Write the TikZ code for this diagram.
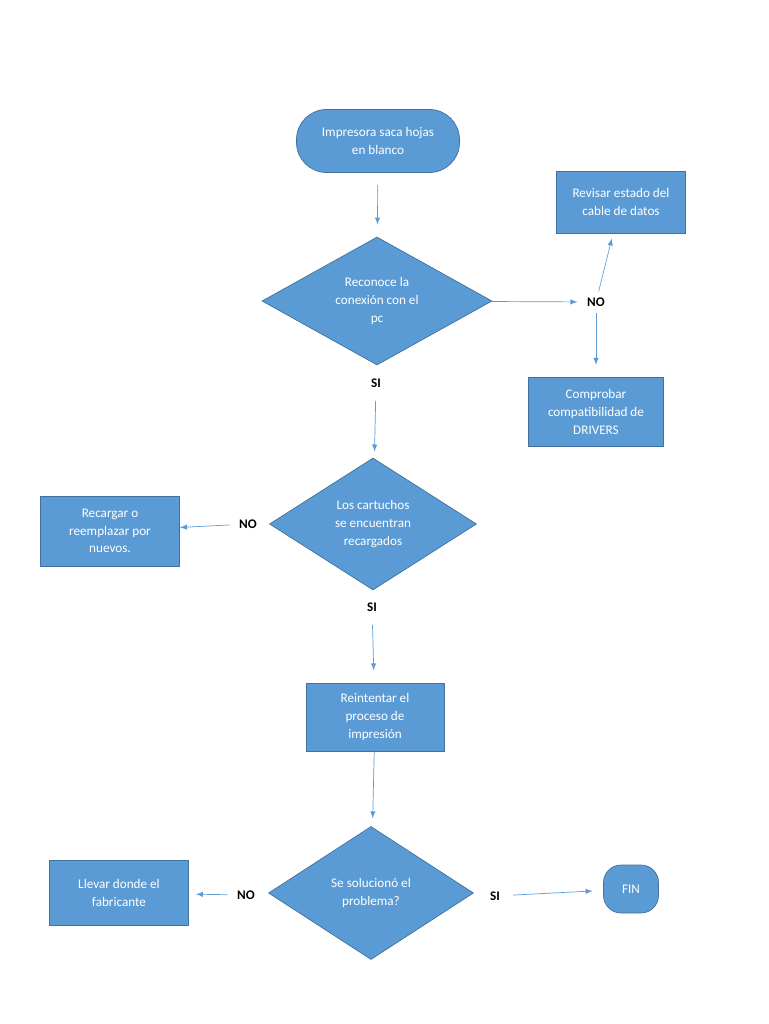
\documentclass[tikz,border=0pt]{standalone}
\usepackage{fontspec}
\setmainfont{Carlito}
\usetikzlibrary{shapes.geometric,positioning}
\definecolor{boxblue}{HTML}{5B9BD5}
\definecolor{edgeblue}{HTML}{41719C}
\begin{document}
\begin{tikzpicture}[x=0.02cm, y=-0.02cm,
        box/.style = {draw=edgeblue, fill=boxblue, text=white,
            align=center, font=\fontsize{7.5}{10}\selectfont,
            inner sep=0pt},
        step/.style = {box, rectangle, minimum width=#1},
        decision/.style = {box, diamond, aspect=1.8},
        label/.style = {font=\bfseries\fontsize{7.5}{9}\selectfont},
        arrow/.style = {draw=boxblue, -latex}]

    \useasboundingbox (0,0) rectangle (768,1024);

    % Start
    \node[box, rounded corners=0.6cm, minimum width=163*0.02cm,
        minimum height=63*0.02cm] (start) at (378,141)
        {Impresora saca hojas\\en blanco};

    % First decision
    \node[decision, minimum width=230*0.02cm, minimum height=128*0.02cm]
        (conn) at (377,301) {Reconoce la\\conexión con el\\pc};
    \node[label] (no1) at (596,302) {NO};
    \node[label] (si1) at (376,383) {SI};
    \node[step=129*0.02cm, minimum height=62*0.02cm] (cable) at (621,202)
        {Revisar estado del\\cable de datos};
    \node[step=135*0.02cm, minimum height=69*0.02cm] (drivers) at (596,412)
        {Comprobar\\compatibilidad de\\DRIVERS};

    % Second decision
    \node[decision, minimum width=207*0.02cm, minimum height=132*0.02cm]
        (ink) at (373,524) {Los cartuchos\\se encuentran\\recargados};
    \node[label] (no2) at (248,524) {NO};
    \node[label] (si2) at (372,607) {SI};
    \node[step=139*0.02cm, minimum height=70*0.02cm] (refill) at (110,531)
        {Recargar o\\reemplazar por\\nuevos.};
    \node[step=138*0.02cm, minimum height=68*0.02cm] (retry) at (375,717)
        {Reintentar el\\proceso de\\impresión};

    % Third decision
    \node[decision, minimum width=205*0.02cm, minimum height=133*0.02cm]
        (fixed) at (371,893) {Se solucionó el\\problema?};
    \node[label] (no3) at (246,895) {NO};
    \node[label] (si3) at (495,896) {SI};
    \node[step=139*0.02cm, minimum height=65*0.02cm] (maker) at (119,893)
        {Llevar donde el\\fabricante};
    \node[box, rounded corners=0.35cm, minimum width=55*0.02cm,
        minimum height=48*0.02cm] (fin) at (631,889) {FIN};

    % Connectors
    \draw[arrow, shorten <=7pt, shorten >=7pt] (start) -- (conn);
    \draw[arrow, shorten >=2pt] (conn) -- (no1);
    \draw[arrow, shorten >=3pt] (no1) -- (cable);
    \draw[arrow, shorten >=7pt] (no1) -- (drivers);
    \draw[arrow, shorten <=4pt, shorten >=4pt] (si1) -- (ink);
    \draw[arrow, shorten <=2pt] (no2) -- (refill);
    \draw[arrow, shorten <=4pt, shorten >=7pt] (si2) -- (retry);
    \draw[arrow, shorten >=5pt] (retry) -- (fixed);
    \draw[arrow, shorten <=2pt, shorten >=4pt] (no3) -- (maker);
    \draw[arrow, shorten <=4pt, shorten >=6pt] (si3) -- (fin);

\end{tikzpicture}
\end{document}
